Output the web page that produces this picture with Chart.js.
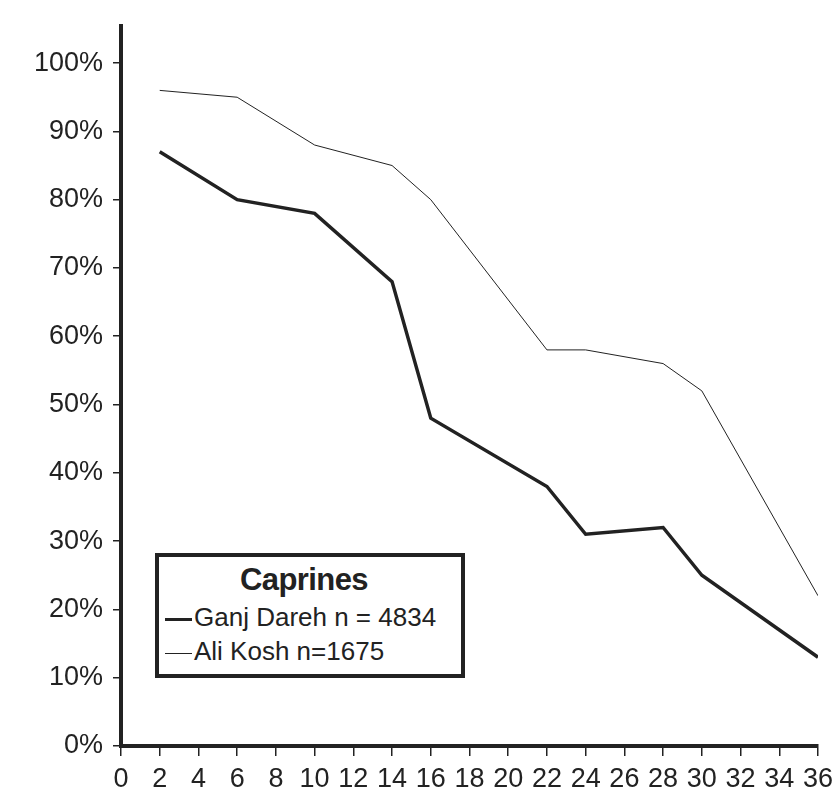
<html>
<head>
    <script src="https://cdn.jsdelivr.net/npm/chart.js@4.4.0/dist/chart.umd.min.js"></script>
    <style>
        body {
            margin: 0;
            background: #fff;
        }

        .wrap {
            position: relative;
            width: 837px;
            height: 798px;
        }

        .legendBox {
            position: absolute;
            left: 155px;
            top: 553px;
            width: 302px;
            height: 117px;
            border: 4px solid #222;
            background: #fff;
            font-family: "Liberation Sans", Arial, sans-serif;
            color: #222;
        }

        .legendTitle {
            position: absolute;
            left: 0;
            width: 290px;
            top: 8px;
            line-height: 30px;
            text-align: center;
            font-weight: bold;
            font-size: 31px;
            letter-spacing: -0.6px;
        }

        .legendRow {
            position: absolute;
            left: 6px;
            font-size: 26px;
            line-height: 26px;
            white-space: nowrap;
        }

        .legendRow span {
            display: inline-block;
            width: 27px;
            vertical-align: middle;
            margin-right: 2px;
        }
    </style>
</head>

<body>
    <div class="wrap">
        <canvas id="myChart" width="837" height="798"></canvas>
        <div class="legendBox">
            <div class="legendTitle">Caprines</div>
            <div class="legendRow" style="top:47px"><span style="border-top:3px solid #222"></span>Ganj Dareh n = 4834</div>
            <div class="legendRow" style="top:81px"><span style="border-top:1px solid #222"></span>Ali Kosh n=1675</div>
        </div>
    </div>
<script>
    const eta = [2, 6, 10, 14, 16, 22, 24, 28, 30, 36];
    const ganjDareh = [87, 80, 78, 68, 48, 38, 31, 32, 25, 13];
    const aliKosh = [96, 95, 88, 85, 80, 58, 58, 56, 52, 22];
    const yTicks = [0, 10, 20, 30, 40, 50, 60, 70, 80, 90, 100];

    function punti(valori) {
        return eta.map((x, i) => ({ x: x, y: valori[i] }));
    }

    const nero = '#222';

    new Chart("myChart", {
        type: "line",
        data: {
            datasets: [{
                label: 'Ganj Dareh n = 4834',
                data: punti(ganjDareh),
                borderColor: nero,
                borderWidth: 3.5,
                pointRadius: 0,
                tension: 0
            }, {
                label: 'Ali Kosh n=1675',
                data: punti(aliKosh),
                borderColor: nero,
                borderWidth: 1,
                pointRadius: 0,
                tension: 0
            }]
        },
        options: {
            responsive: false,
            animation: false,
            layout: {
                padding: { left: 0, right: 19, top: 25, bottom: 0 }
            },
            scales: {
                x: {
                    type: 'linear',
                    min: 0,
                    max: 36,
                    afterFit: (scale) => {
                        scale.height = 52;
                        scale.paddingRight = 0;
                        scale.paddingLeft = 0;
                    },
                    ticks: {
                        stepSize: 2,
                        color: nero,
                        padding: 7,
                        font: { family: 'Liberation Sans', size: 27 }
                    },
                    grid: {
                        drawOnChartArea: false,
                        drawTicks: true,
                        tickLength: 10,
                        color: nero,
                        lineWidth: 1.5
                    },
                    border: { color: nero, width: 4 }
                },
                y: {
                    min: 0,
                    max: 105.4,
                    afterFit: (scale) => { scale.width = 121; },
                    afterBuildTicks: (scale) => {
                        scale.ticks = yTicks.map(v => ({ value: v }));
                    },
                    ticks: {
                        color: nero,
                        padding: 10,
                        callback: (v) => v + '%',
                        font: { family: 'Liberation Sans', size: 27 }
                    },
                    grid: {
                        drawOnChartArea: false,
                        drawTicks: true,
                        tickLength: 8,
                        color: nero,
                        lineWidth: 1.5
                    },
                    border: { color: nero, width: 4 }
                }
            },
            plugins: {
                legend: { display: false },
                tooltip: { enabled: false }
            }
        }
    });
</script>
</body>
</html>
